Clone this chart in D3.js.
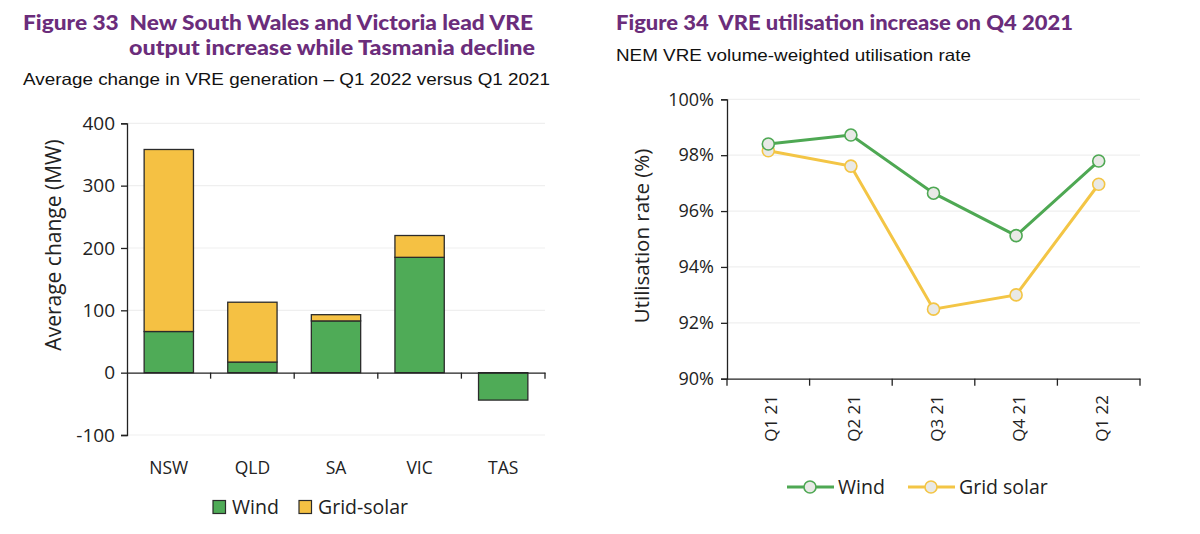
<!DOCTYPE html>
<html><head><meta charset="utf-8">
<script src="https://cdn.jsdelivr.net/npm/d3@7"></script>
<style>body{margin:0;background:#fff}svg{display:block}text{white-space:pre}</style>
</head><body><svg id="c" width="1200" height="534"></svg>
<script>
const states = ["NSW","QLD","SA","VIC","TAS"];
const windChange = [66, 17, 83, 185, -44];
const solarChange = [292, 96, 10, 35, 0];
const barTicks = [-100, 0, 100, 200, 300, 400];

const quarters = ["Q1 21","Q2 21","Q3 21","Q4 21","Q1 22"];
const windUtil = [98.40, 98.72, 96.64, 95.12, 97.79];
const solarUtil = [98.16, 97.61, 92.49, 93.0, 96.96];
const utilTicks = [90, 92, 94, 96, 98, 100];

const GREEN = "#4fab57", YELLOW = "#f5c143", PURPLE = "#6b2d7b";
const LGREEN = "#4ea853", LYELLOW = "#f3c545";
const svg = d3.select("#c");
const tickFont = "'Open Sans', sans-serif";

function titleLine(x, y, txt, len){
  svg.append("text").attr("x", x).attr("y", y).attr("fill", PURPLE)
    .attr("font-family","Lato, sans-serif").attr("font-weight","900").attr("font-size", 21)
    .attr("textLength", len).attr("lengthAdjust","spacingAndGlyphs").text(txt);
}
function subtitle(x, y, txt, len){
  svg.append("text").attr("x", x).attr("y", y).attr("font-family","'Liberation Sans', Arial, sans-serif")
    .attr("font-size", 16.5).attr("fill","#111")
    .attr("textLength", len).attr("lengthAdjust","spacingAndGlyphs").text(txt);
}
titleLine(23, 30, "Figure 33  New South Wales and Victoria lead VRE", 510);
titleLine(129, 55, "output increase while Tasmania decline", 406);
subtitle(23, 85, "Average change in VRE generation \u2013 Q1 2022 versus Q1 2021", 527);
titleLine(616, 30, "Figure 34  VRE utilisation increase on Q4 2021", 457);
subtitle(616, 61, "NEM VRE volume-weighted utilisation rate", 355);

// ---------- Left bar chart ----------
{
  const X0 = 127, X1 = 545;
  const x = d3.scaleBand().domain(states).range([X0, X1]).paddingInner(0.41).paddingOuter(0.205);
  const y = d3.scaleLinear().domain([-100, 400]).range([435, 123.3]);
  const g = svg.append("g");
  g.selectAll(".gl").data(barTicks.filter(d=>d!==0)).join("line")
    .attr("x1",X0).attr("x2",X1).attr("y1",d=>y(d)).attr("y2",d=>y(d))
    .attr("stroke","#efefef").attr("stroke-width",1.2);
  const yAxis = g.append("g").attr("transform",`translate(${X0},0)`)
    .call(d3.axisLeft(y).tickValues(barTicks).tickSize(6).tickPadding(6).tickFormat(d=>String(d)));
  yAxis.select(".domain").attr("stroke","#222").attr("stroke-width",1.3);
  yAxis.selectAll(".tick line").attr("stroke","#222").attr("stroke-width",1.3);
  yAxis.selectAll("text").attr("font-family",tickFont).attr("font-size",19).attr("fill","#222");

  const data = states.map((s,i)=>({s, w: windChange[i], o: solarChange[i]}));
  g.selectAll(".w").data(data).join("rect")
    .attr("x",d=>x(d.s)).attr("width",x.bandwidth())
    .attr("y",d=>y(Math.max(0,d.w))).attr("height",d=>Math.abs(y(d.w)-y(0)))
    .attr("fill",GREEN).attr("stroke","#2b2b2b").attr("stroke-width",1.3);
  g.selectAll(".o").data(data.filter(d=>d.o>0)).join("rect")
    .attr("x",d=>x(d.s)).attr("width",x.bandwidth())
    .attr("y",d=>y(Math.max(0,d.w)+d.o)).attr("height",d=>y(0)-y(d.o))
    .attr("fill",YELLOW).attr("stroke","#2b2b2b").attr("stroke-width",1.3);

  const xAxis = g.append("g").attr("transform",`translate(0,${y(0)})`)
    .call(d3.axisBottom(x).tickSize(0).tickFormat(""));
  xAxis.select(".domain").attr("stroke","#222").attr("stroke-width",1.3);
  const bounds = states.slice(1).map(s=> x(s) - x.step()*x.paddingInner()/2).concat([X1]);
  g.selectAll(".bt").data(bounds).join("line")
    .attr("x1",d=>d).attr("x2",d=>d).attr("y1",y(0)).attr("y2",y(0)+6)
    .attr("stroke","#222").attr("stroke-width",1.3);
  g.selectAll(".cl").data(states).join("text")
    .attr("x",d=>x(d)+x.bandwidth()/2).attr("y",474).attr("text-anchor","middle")
    .attr("font-family",tickFont).attr("font-size",17.5).attr("fill","#222").text(d=>d);
  g.append("text").attr("transform","translate(61,245) rotate(-90)").attr("text-anchor","middle")
    .attr("font-family",tickFont).attr("font-size",21).attr("fill","#222").text("Average change (MW)");
  const leg = [["Wind",GREEN,213],["Grid-solar",YELLOW,299]];
  leg.forEach(([t,c,lx])=>{
    g.append("rect").attr("x",lx).attr("y",500.5).attr("width",12.5).attr("height",13)
      .attr("fill",c).attr("stroke","#2b2b2b").attr("stroke-width",1.2);
    g.append("text").attr("x",lx+19).attr("y",514).attr("font-family",tickFont)
      .attr("font-size",19.5).attr("fill","#222").text(t);
  });
}

// ---------- Right line chart ----------
{
  const X0 = 727, X1 = 1140;
  const x = d3.scaleBand().domain(quarters).range([X0, X1]);
  const y = d3.scaleLinear().domain([90, 100]).range([378.7, 99.3]);
  const g = svg.append("g");
  g.selectAll(".gl").data(utilTicks.filter(d=>d>90)).join("line")
    .attr("x1",X0).attr("x2",X1).attr("y1",d=>y(d)).attr("y2",d=>y(d))
    .attr("stroke","#efefef").attr("stroke-width",1.2);
  const yAxis = g.append("g").attr("transform",`translate(${X0},0)`)
    .call(d3.axisLeft(y).tickValues(utilTicks).tickSize(6).tickPadding(7).tickFormat(d=>d+"%"));
  yAxis.select(".domain").attr("stroke","#222").attr("stroke-width",1.3);
  yAxis.selectAll(".tick line").attr("stroke","#222").attr("stroke-width",1.3);
  yAxis.selectAll("text").attr("font-family",tickFont).attr("font-size",18).attr("fill","#222");

  const xAxis = g.append("g").attr("transform",`translate(0,${y(90)})`)
    .call(d3.axisBottom(x).tickSize(0).tickFormat(""));
  xAxis.select(".domain").attr("stroke","#222").attr("stroke-width",1.3);
  const bounds = quarters.map(q=>x(q)).concat([X1]);
  g.selectAll(".bt").data(bounds).join("line")
    .attr("x1",d=>d).attr("x2",d=>d).attr("y1",y(90)).attr("y2",y(90)+7)
    .attr("stroke","#222").attr("stroke-width",1.3);
  g.selectAll(".cl").data(quarters).join("text")
    .attr("transform",d=>`translate(${x(d)+x.bandwidth()/2+9},395) rotate(-90)`)
    .attr("text-anchor","end").attr("font-family",tickFont).attr("font-size",17).attr("fill","#222").text(d=>d);
  g.append("text").attr("transform","translate(649,236) rotate(-90)").attr("text-anchor","middle")
    .attr("font-family",tickFont).attr("font-size",20.5).attr("fill","#222").text("Utilisation rate (%)");

  const cx = d=>x(d.q)+x.bandwidth()/2;
  const line = d3.line().x(cx).y(d=>y(d.v));
  const series = [
    {name:"Wind", color:LGREEN, vals: quarters.map((q,i)=>({q, v: windUtil[i]}))},
    {name:"Grid solar", color:LYELLOW, vals: quarters.map((q,i)=>({q, v: solarUtil[i]}))}
  ];
  series.slice().reverse().forEach(s=>{
    g.append("path").datum(s.vals).attr("d",line).attr("fill","none")
      .attr("stroke",s.color).attr("stroke-width",3);
    g.selectAll(null).data(s.vals).join("circle")
      .attr("cx",cx).attr("cy",d=>y(d.v)).attr("r",6)
      .attr("fill","#e9e9e6").attr("stroke",s.color).attr("stroke-width",1.6);
  });
  const leg = [["Wind",LGREEN,787],["Grid solar",LYELLOW,908]];
  leg.forEach(([t,c,lx])=>{
    g.append("line").attr("x1",lx).attr("x2",lx+47).attr("y1",487).attr("y2",487)
      .attr("stroke",c).attr("stroke-width",3);
    g.append("circle").attr("cx",lx+23).attr("cy",487).attr("r",6)
      .attr("fill","#e9e9e6").attr("stroke",c).attr("stroke-width",1.6);
    g.append("text").attr("x",lx+51).attr("y",494).attr("font-family",tickFont)
      .attr("font-size",19.5).attr("fill","#222").text(t);
  });
}
</script></body></html>
